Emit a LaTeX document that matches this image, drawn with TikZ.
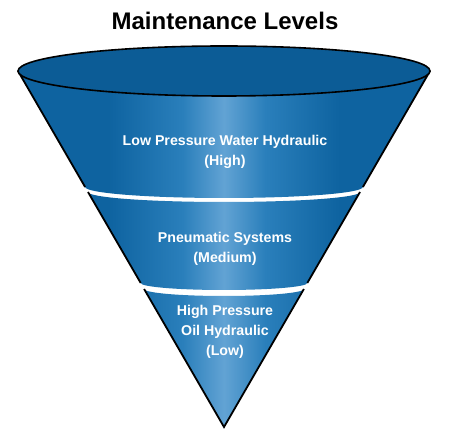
\documentclass[tikz,border=0pt]{standalone}
\usepackage{fontspec}
\setmainfont{Liberation Sans}
\definecolor{fdark}{RGB}{14,99,160}
\definecolor{fmid}{RGB}{42,127,187}
\definecolor{flight}{RGB}{98,163,212}
\definecolor{ftop}{RGB}{12,92,150}
\pgfdeclarehorizontalshading{funnel}{100bp}{color(0bp)=(fdark); color(25bp)=(fdark); color(36bp)=(fdark); color(45bp)=(fmid); color(50bp)=(flight); color(55bp)=(fmid); color(64bp)=(fdark); color(75bp)=(fdark); color(100bp)=(fdark)}
\begin{document}
\begin{tikzpicture}[x=1pt,y=1pt,
  rim/.style={draw=black,line width=1.8pt,line join=miter,line cap=butt},
  lbl/.style={text=white,font=\bfseries\fontsize{14.2}{20}\selectfont,align=center,inner sep=0pt},
  ttl/.style={text=black,font=\bfseries\fontsize{24}{26}\selectfont,inner sep=0pt}]
\useasboundingbox[fill=white] (0,0) rectangle (450,447);
% key points
\coordinate (rimL) at (18,376);
\coordinate (rimR) at (430,376);
\coordinate (s1L) at (85.1,260);
\coordinate (s1R) at (362.9,260);
\coordinate (s2L) at (88,255);
\coordinate (s2R) at (360,255);
\coordinate (s2bL) at (140.7,164);
\coordinate (s2bR) at (307.3,164);
\coordinate (s3L) at (144.1,158);
\coordinate (s3R) at (303.9,158);
\coordinate (apex) at (224,20);
% segment 1
\begin{scope}
\clip (rimL) -- (s1L) arc[start angle=180,end angle=360,x radius=138.9pt,y radius=11pt] -- (rimR) arc[start angle=0,end angle=-180,x radius=206pt,y radius=25pt] -- cycle;
\shade[shading=funnel] (18,0) rectangle (430,447);
\end{scope}
% segment 2
\begin{scope}
\clip (s2L) arc[start angle=180,end angle=360,x radius=136pt,y radius=10pt] -- (s2bR) arc[start angle=0,end angle=-180,x radius=83.3pt,y radius=7pt] -- cycle;
\shade[shading=funnel] (18,0) rectangle (430,447);
\end{scope}
% segment 3
\begin{scope}
\clip (s3L) arc[start angle=180,end angle=360,x radius=79.9pt,y radius=7pt] -- (apex) -- cycle;
\shade[shading=funnel] (18,0) rectangle (430,447);
\end{scope}
% side outlines
\draw[rim] (rimL) -- (s1L);
\draw[rim] (rimR) -- (s1R);
\draw[rim] (s2L) -- (s2bL);
\draw[rim] (s2R) -- (s2bR);
\draw[rim] (s3L) -- (apex) -- (s3R);
% top opening
\draw[rim,fill=ftop,line width=1.6pt] (224,376) ellipse[x radius=206pt,y radius=25pt];
% texts
\node[ttl] (title) at (225,426) {Maintenance Levels};
\node[lbl] (low) at (225,295) {Low Pressure Water Hydraulic\\(High)};
\node[lbl] (pneu) at (225,198) {Pneumatic Systems\\(Medium)};
\node[lbl] (oil) at (225,115) {High Pressure\\Oil Hydraulic\\(Low)};
\end{tikzpicture}
\end{document}
